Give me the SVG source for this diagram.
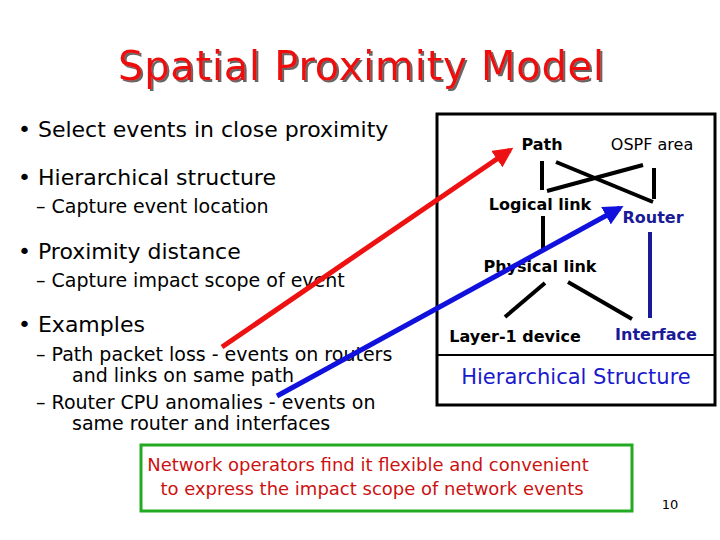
<svg xmlns="http://www.w3.org/2000/svg" width="720" height="540" viewBox="0 0 720 540">
<style>
text{font-family:"DejaVu Sans","Liberation Sans",sans-serif}
.b{font-size:22px;fill:#000}
.s{font-size:19px;fill:#000}
.n{font-size:16px;font-weight:bold;fill:#000}
.nb{font-size:16px;font-weight:bold;fill:#1a1a99}
.l{stroke:#000;stroke-width:4;fill:none}
</style>
<defs>
<marker id="ar" viewBox="0 0 10 10" refX="8" refY="5" markerWidth="4" markerHeight="4" orient="auto"><path d="M0,0L10,5L0,10z" fill="#ee1111"/></marker>
<marker id="ab" viewBox="0 0 10 10" refX="8" refY="5" markerWidth="4" markerHeight="4" orient="auto"><path d="M0,0L10,5L0,10z" fill="#1111dd"/></marker>
<filter id="sh" x="-5%" y="-20%" width="110%" height="140%"><feDropShadow dx="2" dy="2" stdDeviation="0.5" flood-color="#666"/></filter>
</defs>
<rect width="720" height="540" fill="#fff"/>
<text x="361" y="80" text-anchor="middle" font-size="40" fill="#ee1111" filter="url(#sh)" textLength="486">Spatial Proximity Model</text>
<g id="bullets">
<text class="b" x="18" y="137">• Select events in close proximity</text>
<text class="b" x="18" y="185">• Hierarchical structure</text>
<text class="s" x="36" y="213">– Capture event location</text>
<text class="b" x="18" y="259">• Proximity distance</text>
<text class="s" x="36" y="287">– Capture impact scope of event</text>
<text class="b" x="18" y="332">• Examples</text>
<text class="s" x="36" y="361">– Path packet loss - events on routers</text>
<text class="s" x="72" y="382">and links on same path</text>
<text class="s" x="36" y="409">– Router CPU anomalies - events on</text>
<text class="s" x="72" y="430">same router and interfaces</text>
</g>
<g id="hier">
<rect x="437" y="114" width="278" height="291" fill="none" stroke="#000" stroke-width="3"/>
<line x1="437" y1="355" x2="715" y2="355" stroke="#000" stroke-width="2"/>
<text x="576" y="384" text-anchor="middle" font-size="21" fill="#1a1acc">Hierarchical Structure</text>
</g>
<g id="node-path"><text class="n" x="542" y="150" text-anchor="middle">Path</text></g>
<g id="node-ospf"><text x="652" y="150" text-anchor="middle" font-size="16">OSPF area</text></g>
<g id="node-logical"><text class="n" x="540" y="210" text-anchor="middle">Logical link</text></g>
<g id="node-router"><text class="nb" x="653" y="223" text-anchor="middle">Router</text></g>
<g id="node-physical"><text class="n" x="540" y="272" text-anchor="middle">Physical link</text></g>
<g id="node-layer1"><text class="n" x="515" y="342" text-anchor="middle">Layer-1 device</text></g>
<g id="node-interface"><text class="nb" x="656" y="340" text-anchor="middle">Interface</text></g>
<g id="connectors">
<line class="l" x1="542" y1="161" x2="542" y2="190"/>
<line class="l" x1="543" y1="216" x2="543" y2="250"/>
<line class="l" x1="556" y1="162" x2="653" y2="202"/>
<line class="l" x1="643" y1="165" x2="547" y2="191"/>
<line class="l" x1="654" y1="168" x2="654" y2="199"/>
<line x1="650" y1="232" x2="650" y2="318" stroke="#1a1a99" stroke-width="4"/>
<line class="l" x1="545" y1="283" x2="505" y2="317"/>
<line class="l" x1="568" y1="282" x2="632" y2="319"/>
<line x1="222" y1="347" x2="510" y2="150" stroke="#ee1111" stroke-width="5" marker-end="url(#ar)"/>
<line x1="277" y1="396" x2="620" y2="208" stroke="#1111dd" stroke-width="5" marker-end="url(#ab)"/>
</g>
<g id="note">
<rect x="141" y="445" width="491" height="66" fill="none" stroke="#22aa22" stroke-width="3"/>
<text x="368" y="471" text-anchor="middle" font-size="18" fill="#cc1111">Network operators find it flexible and convenient</text>
<text x="372" y="495" text-anchor="middle" font-size="18" fill="#cc1111">to express the impact scope of network events</text>
</g>
<text x="670" y="509" text-anchor="middle" font-size="13">10</text>
</svg>
